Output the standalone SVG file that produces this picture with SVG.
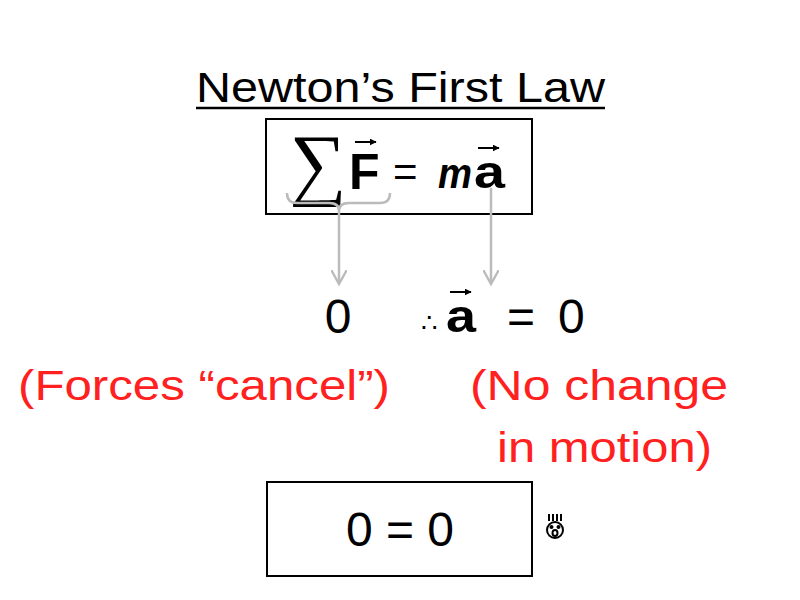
<svg xmlns="http://www.w3.org/2000/svg" width="800" height="600" viewBox="0 0 800 600">
<defs>
<style>
.t{font-family:"Liberation Sans",Arial,sans-serif;font-size:42px;fill:#000}
.n{font-size:48px}
.r{fill:#ff2020}
.box{fill:none;stroke:#000;stroke-width:2}
.con{fill:none;stroke:#bbb;stroke-width:2.5}
.vec{stroke:#000;stroke-width:2;fill:none}
</style>
<marker id="ah" viewBox="0 0 10 10" refX="9" refY="5" markerWidth="16" markerHeight="16" markerUnits="userSpaceOnUse" orient="auto">
<path d="M0,0 L9,5 L0,10" fill="none" stroke="#bbb" stroke-width="1.5"/>
</marker>
<marker id="va" viewBox="0 0 10 10" refX="9" refY="5" markerWidth="7" markerHeight="7" markerUnits="userSpaceOnUse" orient="auto">
<path d="M0,0 L10,5 L0,10 z" fill="#000"/>
</marker>
</defs>
<rect width="800" height="600" fill="#fff"/>
<g id="title">
<text class="t" x="196" y="102" textLength="409" lengthAdjust="spacingAndGlyphs">Newton’s First Law</text>
<line x1="196" y1="108" x2="605" y2="108" stroke="#000" stroke-width="2.5"/>
</g>
<g id="equation">
<rect class="box" x="266" y="119" width="266" height="95"/>
<text x="318" y="190" text-anchor="middle" style="font-family:'Liberation Serif',serif;font-size:80px">∑</text>
<text class="t" x="349" y="189" font-weight="bold" style="font-size:50px">F</text>
<line class="vec" x1="355" y1="142" x2="376" y2="142" marker-end="url(#va)"/>
<text class="t" x="393" y="186">=</text>
<text class="t" x="438" y="188" font-style="italic" font-weight="bold" textLength="34" lengthAdjust="spacingAndGlyphs">m</text>
<text class="t" x="474" y="188" font-weight="bold" style="font-size:46px" textLength="31" lengthAdjust="spacingAndGlyphs">a</text>
<line class="vec" x1="478" y1="148" x2="499" y2="148" marker-end="url(#va)"/>
</g>
<g id="connectors">
<path class="con" d="M287,193 Q287,203 297,203 L329,203 Q339,203 339,211 Q339,203 349,203 L380,203 Q390,203 390,193"/>
<line class="con" x1="339" y1="211" x2="339" y2="284" marker-end="url(#ah)"/>
<line class="con" x1="491" y1="188" x2="491" y2="284" marker-end="url(#ah)"/>
</g>
<g id="zero">
<text class="t n" x="338" y="333" text-anchor="middle">0</text>
</g>
<g id="a-zero">
<text class="t" x="421" y="332" style="font-size:26px">∴</text>
<text class="t" x="446" y="332" font-weight="bold" style="font-size:46px" textLength="30" lengthAdjust="spacingAndGlyphs">a</text>
<line class="vec" x1="450" y1="292" x2="471" y2="292" marker-end="url(#va)"/>
<text class="t n" x="507" y="333">=</text>
<text class="t n" x="558" y="333">0</text>
</g>
<g id="forces-cancel">
<text class="t r" x="18" y="400" textLength="372" lengthAdjust="spacingAndGlyphs">(Forces “cancel”)</text>
</g>
<g id="no-change">
<text class="t r" x="470" y="400" textLength="258" lengthAdjust="spacingAndGlyphs">(No change</text>
<text class="t r" x="497" y="462" textLength="215" lengthAdjust="spacingAndGlyphs">in motion)</text>
</g>
<g id="result">
<rect class="box" x="267" y="482" width="265" height="94"/>
<text class="t n" x="400" y="546" text-anchor="middle">0 = 0</text>
</g>
<g id="face" fill="none" stroke="#000" stroke-width="2">
<circle cx="555" cy="530" r="8"/>
<line x1="549" y1="514" x2="549" y2="521"/><line x1="553" y1="514" x2="553" y2="521"/><line x1="557" y1="514" x2="557" y2="521"/><line x1="561" y1="514" x2="561" y2="521"/>
<circle cx="551.5" cy="527" r="1" fill="#000"/><circle cx="558.5" cy="527" r="1" fill="#000"/>
<ellipse cx="555" cy="533" rx="2.5" ry="3"/>
</g>
</svg>
